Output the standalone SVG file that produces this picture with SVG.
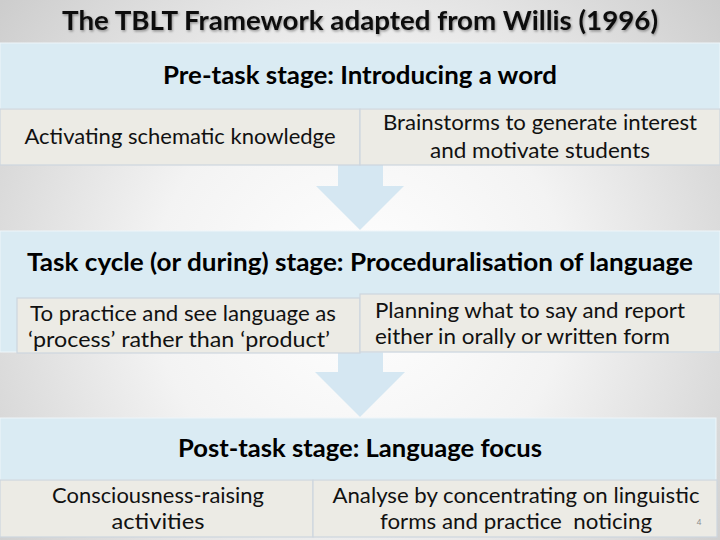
<svg xmlns="http://www.w3.org/2000/svg" width="720" height="540" viewBox="0 0 720 540">
<defs>
<radialGradient id="bg" cx="360" cy="290" r="460" gradientUnits="userSpaceOnUse">
<stop offset="0" stop-color="#ffffff"/>
<stop offset="0.45" stop-color="#f3f3f3"/>
<stop offset="1" stop-color="#cdcdcd"/>
</radialGradient>
<filter id="sh" x="-5%" y="-20%" width="110%" height="150%">
<feDropShadow dx="1" dy="1.5" stdDeviation="1" flood-color="#000" flood-opacity="0.35"/>
</filter>
<style>
.band{fill:#DAEBF3;stroke:#eef6fa;stroke-width:1}
.cell{fill:#ECEBE5;stroke:#cdd6de;stroke-width:1.2}
.arrow{fill:#D5E7F2}
.h{font-family:Lato,"Liberation Sans",sans-serif;font-weight:bold;font-size:24px;fill:#000}
.t{font-family:Lato,"Liberation Sans",sans-serif;font-size:21.5px;fill:#111;white-space:pre}
.title{font-family:Lato,"Liberation Sans",sans-serif;font-weight:bold;font-size:27px;fill:#111}
</style>
</defs>
<rect x="0" y="0" width="720" height="540" fill="url(#bg)"/>
<g id="title">
<text class="title" x="360" y="30" text-anchor="middle" textLength="596" lengthAdjust="spacingAndGlyphs" filter="url(#sh)">The TBLT Framework adapted from Willis (1996)</text>
</g>
<g id="connectors">
<polygon class="arrow" points="338,165 383,165 383,186 404,186 360,230 316,186 338,186"/>
<polygon class="arrow" points="338,352 383,352 383,372 405,372 360,417 315,372 338,372"/>
</g>
<g id="pre-task">
<rect class="band" x="0" y="43" width="720" height="66"/>
<text class="h" x="360" y="84" text-anchor="middle" textLength="394" lengthAdjust="spacingAndGlyphs">Pre-task stage: Introducing a word</text>
</g>
<g id="pre-task-1">
<rect class="cell" x="0" y="109" width="360" height="56"/>
<text class="t" x="180" y="144" text-anchor="middle" textLength="311" lengthAdjust="spacingAndGlyphs">Activating schematic knowledge</text>
</g>
<g id="pre-task-2">
<rect class="cell" x="360" y="109" width="360" height="56"/>
<text class="t" x="540" y="130" text-anchor="middle" textLength="314" lengthAdjust="spacingAndGlyphs">Brainstorms to generate interest</text>
<text class="t" x="540" y="158" text-anchor="middle" textLength="220" lengthAdjust="spacingAndGlyphs">and motivate students</text>
</g>
<g id="task-cycle">
<rect class="band" x="0" y="231" width="720" height="121"/>
<text class="h" x="360" y="271" text-anchor="middle" textLength="666" lengthAdjust="spacingAndGlyphs">Task cycle (or during) stage: Proceduralisation of language</text>
</g>
<g id="task-cycle-1">
<rect class="cell" x="17" y="298" width="343" height="55"/>
<text class="t" x="30" y="321" textLength="306" lengthAdjust="spacingAndGlyphs">To practice and see language as</text>
<text class="t" x="28" y="347" textLength="302" lengthAdjust="spacingAndGlyphs">‘process’ rather than ‘product’</text>
</g>
<g id="task-cycle-2">
<rect class="cell" x="360" y="294" width="360" height="58"/>
<text class="t" x="375" y="318" textLength="310" lengthAdjust="spacingAndGlyphs">Planning what to say and report</text>
<text class="t" x="375" y="344" textLength="295" lengthAdjust="spacingAndGlyphs">either in orally or written form</text>
</g>
<g id="post-task">
<rect class="band" x="0" y="418" width="716" height="62"/>
<text class="h" x="360" y="457" text-anchor="middle" textLength="364" lengthAdjust="spacingAndGlyphs">Post-task stage: Language focus</text>
</g>
<g id="post-task-1">
<rect class="cell" x="0" y="480" width="313" height="57"/>
<text class="t" x="158" y="503" text-anchor="middle" textLength="212" lengthAdjust="spacingAndGlyphs">Consciousness-raising</text>
<text class="t" x="158" y="529" text-anchor="middle" textLength="93" lengthAdjust="spacingAndGlyphs">activities</text>
</g>
<g id="post-task-2">
<rect class="cell" x="313" y="480" width="404" height="57"/>
<text class="t" x="516" y="503" text-anchor="middle" textLength="367" lengthAdjust="spacingAndGlyphs">Analyse by concentrating on linguistic</text>
<text class="t" x="516" y="529" text-anchor="middle" textLength="272" lengthAdjust="spacingAndGlyphs">forms and practice  noticing</text>
<text x="699" y="525" font-family="Lato,'Liberation Sans',sans-serif" font-size="8" fill="#8a8a8a" text-anchor="middle">4</text>
</g>
</svg>
